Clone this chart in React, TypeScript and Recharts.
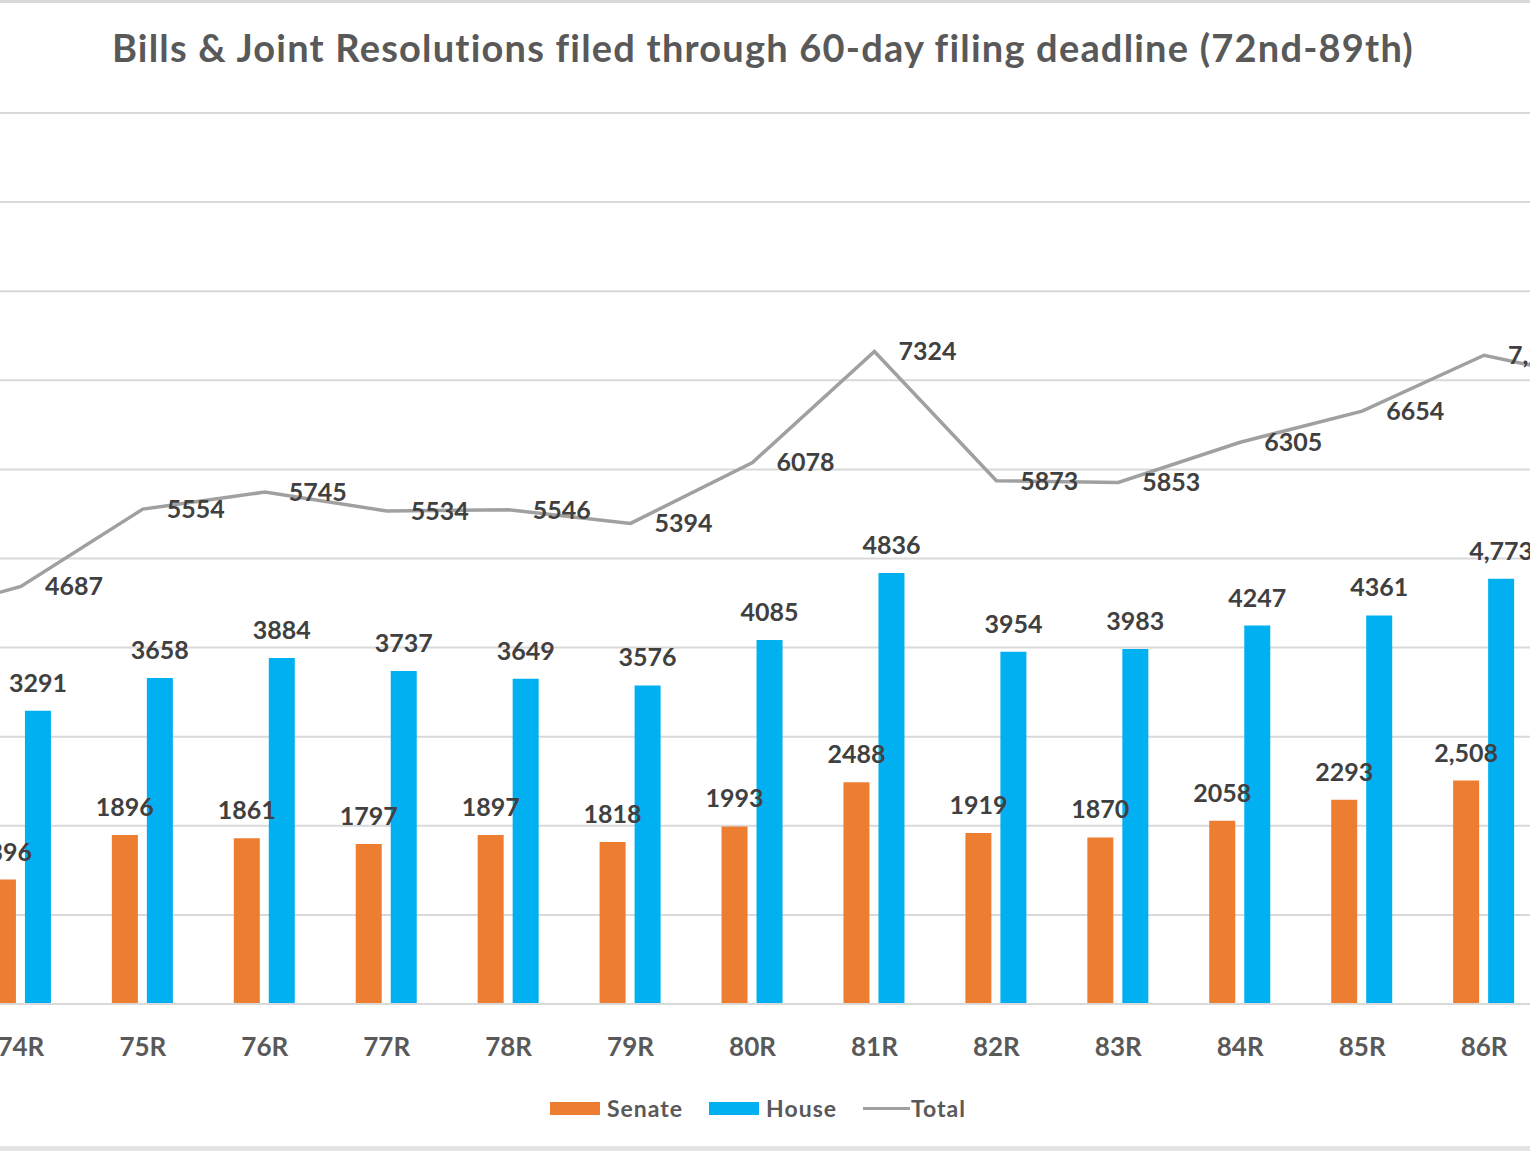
import { ComposedChart, Bar, Line, XAxis, YAxis, CartesianGrid, LabelList, Legend } from 'recharts';

// sessions 73R and 87R sit mostly outside the visible frame (the reference is cropped)
const sessions = ['73R', '74R', '75R', '76R', '77R', '78R', '79R', '80R', '81R', '82R', '83R', '84R', '85R', '86R', '87R'];
const senate = [1300, 1396, 1896, 1861, 1797, 1897, 1818, 1993, 2488, 1919, 1870, 2058, 2293, 2508, 2200];
const house = [3000, 3291, 3658, 3884, 3737, 3649, 3576, 4085, 4836, 3954, 3983, 4247, 4361, 4773, 4790];
const total = [4300, 4687, 5554, 5745, 5534, 5546, 5394, 6078, 7324, 5873, 5853, 6305, 6654, 7281, 6990];
const commaSessions = ['86R', '87R'];
const legendOrder = ['Senate', 'House', 'Total'];
const yTicks = [0, 1000, 2000, 3000, 4000, 5000, 6000, 7000, 8000, 9000, 10000];

const fmt = (v: number, s: string) => (commaSessions.includes(s) ? v.toLocaleString('en-US') : String(v));

const data = sessions.map((s, i) => ({
  session: s,
  Senate: senate[i],
  House: house[i],
  Total: total[i],
  senateLabel: fmt(senate[i], s),
  houseLabel: fmt(house[i], s),
  totalLabel: fmt(total[i], s),
}));

const FONT = 'Lato, "Open Sans", sans-serif';
const labelStyle = { fontSize: 25, fontWeight: 700, fill: '#404040', fontFamily: FONT };

const renderLegend = (props: any) => {
  const items = [...(props.payload || [])].sort(
    (a: any, b: any) => legendOrder.indexOf(a.value) - legendOrder.indexOf(b.value)
  );
  return (
    <div style={{ display: 'flex', alignItems: 'center', fontFamily: FONT, fontSize: 23, letterSpacing: 1, fontWeight: 700, color: '#595959', whiteSpace: 'nowrap' }}>
      {items.map((it: any, i: number) => (
        <div key={i} style={{ display: 'flex', alignItems: 'center', marginRight: 26 }}>
          {it.value === 'Total' ? (
            <div style={{ width: 47, height: 3, background: it.color, marginRight: 1 }} />
          ) : (
            <div style={{ width: 50, height: 13, background: it.color, marginRight: 7 }} />
          )}
          <span>{it.value}</span>
        </div>
      ))}
    </div>
  );
};

export default function App() {
  return (
    <div style={{ position: 'fixed', left: 0, top: 0, width: 1530, height: 1151, overflow: 'hidden', background: '#fff', fontFamily: FONT }}>
      <div style={{ position: 'absolute', left: 0, top: 0, width: 1530, height: 3, background: '#d9d9d9' }} />
      <div style={{ position: 'absolute', left: 0, top: 1146, width: 1530, height: 5, background: '#e3e3e3' }} />
      <div style={{ position: 'absolute', left: 0, top: 22, width: 1526, textAlign: 'center', fontSize: 38, letterSpacing: 1.2, fontWeight: 700, color: '#595959', lineHeight: '50px' }}>
        Bills &amp; Joint Resolutions filed through 60-day filing deadline (72nd-89th)
      </div>
      <div style={{ position: 'absolute', left: -162, top: 0 }}>
        <ComposedChart width={1829} height={1151} data={data} margin={{ top: 113, right: 0, bottom: 87, left: 0 }} barSize={26} barGap={9}>
          <CartesianGrid vertical={false} stroke="#d9d9d9" strokeWidth={2} />
          <YAxis hide domain={[0, 10000]} ticks={yTicks} />
          <XAxis
            dataKey="session"
            height={60}
            axisLine={{ stroke: '#d9d9d9', strokeWidth: 2 }}
            tickLine={false}
            tickSize={0}
            tickMargin={34}
            tick={{ fontSize: 26, fontWeight: 700, fill: '#595959', fontFamily: FONT }}
            interval={0}
          />
          <Legend verticalAlign="middle" content={renderLegend} wrapperStyle={{ left: 712, top: 1094, width: 600, height: 30 }} />
          <Bar dataKey="Senate" fill="#ED7D31" isAnimationActive={false}>
            <LabelList dataKey="senateLabel" position="top" offset={19} style={labelStyle} />
          </Bar>
          <Bar dataKey="House" fill="#00B0F0" isAnimationActive={false}>
            <LabelList dataKey="houseLabel" position="top" offset={19} style={labelStyle} />
          </Bar>
          <Line type="linear" dataKey="Total" stroke="#a0a0a0" strokeWidth={3.5} dot={false} isAnimationActive={false}>
            <LabelList dataKey="totalLabel" position="right" offset={24} style={labelStyle} />
          </Line>
        </ComposedChart>
      </div>
    </div>
  );
}
